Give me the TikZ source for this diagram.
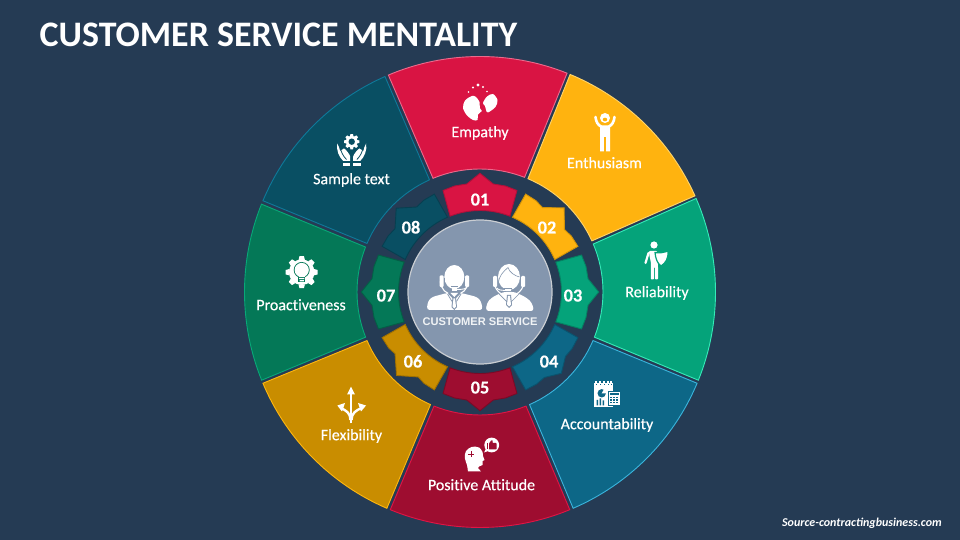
\documentclass[tikz,border=0pt]{standalone}
\usepackage{fontspec}
\setmainfont{Carlito}
\newfontfamily\labelfont[FakeBold=0.35,Ligatures=NoCommon]{Carlito}
\newfontfamily\numfont[FakeBold=0.3,BoldFont={Carlito Bold}]{Carlito Bold}
\newfontfamily\arialfont{Liberation Sans}
\definecolor{bgc}{HTML}{253B54}
\definecolor{fa}{HTML}{D91443}\definecolor{sa}{HTML}{EB6A8C}\definecolor{da}{HTML}{B0103A}
\definecolor{fb}{HTML}{FFB30F}\definecolor{sb}{HTML}{FFD46A}\definecolor{db}{HTML}{D09208}
\definecolor{fc}{HTML}{05A37A}\definecolor{sc}{HTML}{35EAB8}\definecolor{dc}{HTML}{048262}
\definecolor{fd}{HTML}{0D6787}\definecolor{sd}{HTML}{3AB5DD}\definecolor{dd}{HTML}{0A536E}
\definecolor{fe}{HTML}{9E0D30}\definecolor{se}{HTML}{E01545}\definecolor{de}{HTML}{7A0A26}
\definecolor{ff}{HTML}{C98D00}\definecolor{sf}{HTML}{FFB70F}\definecolor{df}{HTML}{A07000}
\definecolor{fg}{HTML}{047857}\definecolor{sg}{HTML}{08A878}\definecolor{dg}{HTML}{035F45}
\definecolor{fh}{HTML}{094F63}\definecolor{sh}{HTML}{0E7A9A}\definecolor{dh}{HTML}{073F50}
\definecolor{hubc}{HTML}{8496AE}\definecolor{hubline}{HTML}{C9CDD2}
% start angle, end angle (outer rim), fill, outline
\newcommand\wheelsector[4]{\draw[sectorline,fill=#3,draw=#4]
  ([shift={(480,248)}]#1:235.5pt) arc[start angle=#1,end angle=#2,radius=235.5pt]
  -- ([shift={(480,248)}]#2+.45:123pt) arc[start angle=#2+.45,end angle=#1-.45,radius=123pt] -- cycle;}
% mid angle, tip radius, base half angle, base radius, fill, outline
\newcommand\wheeltile[6]{\pgfmathsetmacro\midr{(108+#4)/2+.6}%
  \draw[tileline,fill=#5,draw=#6]
  ([shift={(480,248)}]#1+20:108pt)
  -- ([shift={(480,248)}]#1+13.5:\midr pt)
  -- ([shift={(480,248)}]#1+#3:#4pt)
  -- ([shift={(480,248)}]#1:#2pt)
  -- ([shift={(480,248)}]#1-#3:#4pt)
  -- ([shift={(480,248)}]#1-13.5:\midr pt)
  -- ([shift={(480,248)}]#1-20:108pt)
  -- ([shift={(480,248)}]#1-21.5:81.5pt) arc[start angle=#1-21.5,end angle=#1+21.5,radius=81.5pt] -- cycle;}
\newcommand\gearshape[5]{\fill[white] (#1,#2) circle[radius=#3];
  \foreach \ga in {1,...,#5}{\fill[white,shift={(#1,#2)},rotate=\ga*360/#5]
    (#3-.6,-#4) -- (#3+#4,-#4*.7) -- (#3+#4,#4*.7) -- (#3-.6,#4) -- cycle;}}
\tikzset{
  sectorline/.style={line width=.9pt,line join=miter},
  tileline/.style={line width=.9pt,line join=miter},
  seclabel/.style={text=white,font=\labelfont\fontsize{16}{18}\selectfont,anchor=base,inner sep=0pt},
  numlabel/.style={text=white,font=\numfont\fontsize{18.3}{20}\selectfont,anchor=base,inner sep=0pt},
  iconline/.style={draw=white,line cap=round,line join=round},
}
\begin{document}
\begin{tikzpicture}[x=1pt,y=1pt]
\fill[bgc] (0,0) rectangle (960,540);
\useasboundingbox (0,0) rectangle (960,540);
\wheelsector{112.9}{68.3}{fa}{sa}
\wheelsector{67.5}{24.1}{fb}{sb}
\wheelsector{23.4}{-22}{fc}{sc}
\wheelsector{-22.8}{-66.7}{fd}{sd}
\wheelsector{-67.6}{-112.4}{fe}{se}
\wheelsector{-113.3}{-157.2}{ff}{sf}
\wheelsector{-158}{-201.9}{fg}{sg}
\wheelsector{157.2}{113.8}{fh}{sh}
\wheeltile{90}{118.7}{7}{108.8}{fa}{da}
\wheeltile{45}{119}{8.5}{105}{fb}{db}
\wheeltile{0}{118.7}{7}{108.8}{fc}{dc}
\wheeltile{-45}{115}{8}{107}{fd}{dd}
\wheeltile{-90}{118.7}{7}{108.8}{fe}{de}
\wheeltile{-135}{118}{9}{105}{ff}{df}
\wheeltile{180}{118.7}{7}{108.8}{fg}{dg}
\wheeltile{135}{118.5}{8.3}{106}{fh}{dh}
\node[circle,fill=hubc,draw=hubline,line width=1.2pt,minimum size=144pt,inner sep=0pt] (hub) at (480,248) {};
\begin{scope}[shift={(0,540)},yscale=-1]
% title and footer
\node[anchor=base west,inner sep=0pt,text=white,font=\fontsize{35.9}{38}\selectfont\bfseries] (title) at (39.5,46.5) {CUSTOMER SERVICE MENTALITY};
\node[anchor=base east,inner sep=0pt,text=white,font=\fontsize{12}{14}\selectfont\bfseries\itshape] (source) at (942,527) {Source-contractingbusiness.com};
% labels
\node[seclabel] (l1) at (480,137.2) {Empathy};
\node[seclabel] (l2) at (604.5,168.2) {Enthusiasm};
\node[seclabel] (l3) at (657,297.2) {Reliability};
\node[seclabel] (l4) at (607,429.2) {Accountability};
\node[seclabel] (l5) at (481.5,490.2) {Positive Attitude};
\node[seclabel] (l6) at (351.5,440.2) {Flexibility};
\node[seclabel] (l7) at (301,310.2) {Proactiveness};
\node[seclabel] (l8) at (351.5,184.2) {Sample text};
% numbers
\node[numlabel] (n1) at (480,205.5) {01};
\node[numlabel] (n2) at (547,233.5) {02};
\node[numlabel] (n3) at (573,301.5) {03};
\node[numlabel] (n4) at (549,367.5) {04};
\node[numlabel] (n5) at (480,393.5) {05};
\node[numlabel] (n6) at (413,367.5) {06};
\node[numlabel] (n7) at (386,301.5) {07};
\node[numlabel] (n8) at (411,233.5) {08};
% hub text
\node[anchor=base,inner sep=0pt,text=white!88!hubc,font=\arialfont\bfseries\fontsize{11.1}{13}\selectfont] (hubtext) at (480,325.3) {CUSTOMER SERVICE};
% --- man
\draw[white,line width=1.1pt] (440.3,281) arc[start angle=180,end angle=0,radius=14];
\fill[white] (454.3,277) ellipse[x radius=10,y radius=12];
\fill[white,rounded corners=1pt] (439.5,275.5) rectangle (443.5,287);
\fill[white,rounded corners=1pt] (465,275.5) rectangle (469,287);
\draw[hubc,line width=.8pt] (444.4,278) -- (444.4,286);
\draw[hubc,line width=.8pt] (464.2,278) -- (464.2,286);
\draw[white,line width=.9pt] (467,287) .. controls (466,289) and (462,289.5) .. (457,289.5);
\fill[white] (451.5,287.5) rectangle (457,291) ;
\draw[hubc,line width=.7pt] (450.8,286.8) -- (458,286.8);
\fill[white,rounded corners=3pt] (426.7,310) -- (428,301) -- (432,297) -- (447,293) -- (461,293) -- (477,297) -- (481,301) -- (482.7,310) -- cycle;
\fill[hubc] (448,293.5) -- (454.3,300) -- (460.5,293.5) -- (459,292.5) -- (449.5,292.5) -- cycle;
\fill[white] (450.5,293) -- (458,293) -- (454.3,297) -- cycle;
\draw[hubc,line width=.7pt] (447.5,294) -- (452,301.5) (461,294) -- (456.5,301.5);
\fill[hubc] (452.5,297.5) -- (456,297.5) -- (457,307) -- (454.3,310) -- (451.5,307) -- cycle;
\fill[white] (453.5,298.5) -- (455,298.5) -- (456,306.5) -- (454.3,308.5) -- (452.5,306.5) -- cycle;
% --- woman
\draw[white,line width=1.1pt] (494,281) arc[start angle=180,end angle=0,radius=15];
\fill[white] (509,277) ellipse[x radius=11,y radius=13];
\fill[white,rounded corners=1pt] (493,276) rectangle (497,287);
\fill[white,rounded corners=1pt] (521,276) rectangle (525,287);
\draw[hubc,line width=.6pt] (498.5,284) .. controls (498.5,276) and (503,272) .. (508,267.5) .. controls (509,272) and (515,276) .. (519.5,277);
\draw[white,line width=.9pt] (497,288) .. controls (498,290) and (502,290.5) .. (505,290.5);
\fill[white] (505,288.5) rectangle (511,291.5);
\draw[hubc,line width=.7pt] (504,288) -- (512,288);
\fill[white,rounded corners=3pt] (485.7,311) -- (487,303) -- (491,298) -- (503,292) -- (515,292) -- (527,298) -- (532,303) -- (534,311) -- cycle;
\draw[hubc,line width=.7pt] (499,294) -- (509,304) -- (519,294);
\fill[hubc] (507,295) -- (511,295) -- (512,305) -- (509,308) -- (506,305) -- cycle;
\fill[white] (508,296) -- (510,296) -- (511,304.5) -- (509,306.5) -- (507,304.5) -- cycle;
% --- empathy
\fill[white] plot[smooth cycle] coordinates {(472,96) (465,100.5) (463,108) (467,115.5) (473,120) (477.5,120) (478,114.5) (481.8,111) (479.8,108) (479.5,102) (476,97)};
\fill[white] plot[smooth cycle] coordinates {(483,103) (487,96.5) (493,94) (497.5,100) (495.5,107) (488,112.5) (486,110) (485,106)};
\foreach \dx/\dy/\dr in {468.5/92/.9,473/87.5/1.2,478/85/1.6,483/87/1.2,487/91.5/.9}{\fill[white] (\dx,\dy) circle[radius=\dr];}
% --- enthusiasm
\fill[white] (605,118) circle[radius=5];
\fill[fb] (605,119.5) ellipse[x radius=2.2,y radius=1.8];
\draw[iconline,line width=2.6pt] (595.5,117) .. controls (596,122) and (598,125) .. (601,126.5);
\draw[iconline,line width=2.6pt] (614.5,117) .. controls (614,122) and (612,125) .. (609,126.5);
\fill[white] (600,125.5) -- (610,125.5) -- (610,151.5) -- (606.2,151.5) -- (606.2,137) -- (603.8,137) -- (603.8,151.5) -- (600,151.5) -- cycle;
% --- reliability
\fill[white] (654,245) circle[radius=3.6];
\fill[white,rounded corners=.8pt] (649,251) -- (657,251) -- (658,267) -- (658,279.5) -- (655,279.5) -- (655,267) -- (654,267) -- (654,279.5) -- (650.8,279.5) -- (650.8,262) -- (649.5,256) -- cycle;
\draw[iconline,line width=2.2pt] (648.5,253) -- (645.5,263);
\draw[fc,line width=1.2pt,fill=white] (655,252.5) .. controls (659,253.5) and (664,252.5) .. (668,251) .. controls (668.5,258) and (666,263) .. (661,266) .. controls (657,263) and (655.5,258) .. (655,252.5) -- cycle;
% --- accountability
\fill[white] (594.3,383) rectangle (612.7,407.3);
\foreach \sx in {596,600,604,608,611}{\fill[fd] (\sx-.4,383) rectangle (\sx+.4,385.5); \fill[white] (\sx-.6,381) rectangle (\sx+.6,384);}
\fill[fd] (601.7,393.3) circle[radius=4.2];
\fill[white] (601.7,393.3) -- (606.4,393.3) arc[start angle=0,end angle=-60,radius=4.7] -- cycle;
\fill[fd] (596.5,400) rectangle (598,405.5) (599.5,398.5) rectangle (601,405.5) (602.5,400.5) rectangle (604,405.5);
\fill[white,draw=fd,line width=.7pt] (608.3,391.7) rectangle (620.3,405);
\fill[fd] (609.8,393) rectangle (618.8,395.5);
\foreach \kx in {610,613,616}{\foreach \ky in {397,399.5,402}{\fill[fd] (\kx,\ky) rectangle (\kx+2,\ky+1.4);}}
% --- positive attitude
\fill[white] plot[smooth] coordinates {(468,471.5) (467,465) (464.8,458) (466,451) (472,446.8) (479,447.5) (482.5,452) (483,456)} -- (484.5,460) -- (482.5,461) -- (482.5,465) -- (479,466.5) -- (478,468) -- (481,471.5) -- cycle;
\draw[fe,line width=1pt] (468.3,454.3) -- (474.3,454.3) (471.3,451.3) -- (471.3,457.3);
\fill[white] (484,452.5) -- (486.2,448.2) -- (489.5,450.5) -- cycle;
\fill[white] (491.7,445) circle[radius=7.4];
\fill[fe] (486.6,443.5) rectangle (488.4,449.5);
\fill[fe,rounded corners=.7pt] (489,443.5) -- (491.5,440) -- (492.8,440.5) -- (492.4,443) -- (496.5,443) -- (496.5,449.5) -- (489,449.5) -- cycle;
% --- flexibility
\draw[white,line width=2.5pt] (351,423.5) -- (351,393);
\fill[white] (351,386.7) -- (355,394.5) -- (347,394.5) -- cycle;
\draw[white,line width=2.4pt] (350.5,420) .. controls (350.5,413) and (346,410.5) .. (341,408);
\draw[white,line width=2.4pt] (351.5,420) .. controls (351.5,413) and (356,410.5) .. (361.5,408);
\fill[white] (337.3,405.5) -- (345,403) -- (342,411.5) -- cycle;
\fill[white] (366,405.5) -- (358,403) -- (361,411.5) -- cycle;
% --- proactiveness
\gearshape{301.7}{272.2}{12.8}{3.2}{8}
\fill[fg] (301.7,270) circle[radius=8];
\fill[white] (301.7,270) circle[radius=7.1];
\fill[white] (298.5,274.5) rectangle (304.9,278);
\fill[fg] (298,277.5) rectangle (305.4,282);
\fill[white] (299,278) rectangle (304.4,279.2) (299.5,280.2) rectangle (303.9,281.4);
% --- sample text
\gearshape{351.7}{141.7}{5.8}{1.8}{8}
\fill[fh] (351.7,141.7) circle[radius=3.2];
\fill[white] (337.3,143.5) .. controls (339,146) and (339.5,149) .. (340,151) -- (344,148.5) .. controls (345,148.5) and (350,154.5) .. (350.2,156.5) -- (350.2,161) -- (343.2,161) .. controls (339,157) and (336,150) .. (337.3,143.5) -- cycle;
\fill[white] (366.1,143.5) .. controls (364.4,146) and (363.9,149) .. (363.4,151) -- (359.4,148.5) .. controls (358.4,148.5) and (353.4,154.5) .. (353.2,156.5) -- (353.2,161) -- (360.2,161) .. controls (364.4,157) and (367.4,150) .. (366.1,143.5) -- cycle;
\draw[fh,line width=.8pt] (340.2,147) .. controls (341,152) and (343,156) .. (346.5,159.5);
\draw[fh,line width=.8pt] (363.2,147) .. controls (362.4,152) and (360.4,156) .. (356.9,159.5);
\fill[white] (342.8,163) rectangle (350.2,166);
\fill[white] (353.2,163) rectangle (360.6,166);
\end{scope}
\end{tikzpicture}
\end{document}
